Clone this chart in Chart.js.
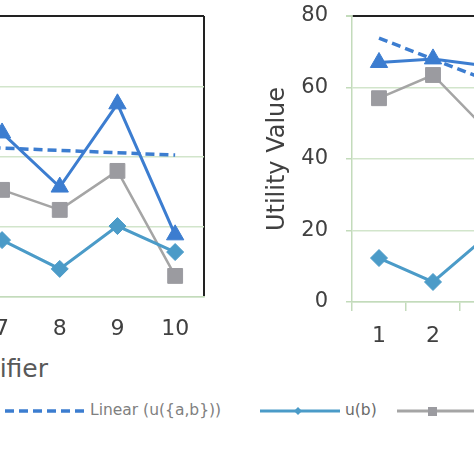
<!DOCTYPE html>
<html><head><meta charset="utf-8">
<script src="https://cdn.jsdelivr.net/npm/chart.js@4"></script>
<style>
html,body{margin:0;padding:0;background:#fff;}
#wrap{position:relative;width:474px;height:474px;overflow:hidden;background:#fff;font-family:"DejaVu Sans",sans-serif;}
canvas{position:absolute;top:0;}
#c1{left:-420px;}
#c2{left:240px;}
.txt{position:absolute;white-space:nowrap;}
#xtitle{right:426px;top:356px;font-size:25px;line-height:25px;color:#595959;}
.leg{font-size:15.5px;line-height:16px;color:#808080;top:402px;}
</style></head>
<body><div id="wrap">
<canvas id="c1" width="640" height="345"></canvas>
<canvas id="c2" width="700" height="345"></canvas>
<div id="xtitle" class="txt">Classifier</div>
<svg style="position:absolute;left:0;top:400px" width="474" height="24">
  <line x1="5" y1="11" x2="86" y2="11" stroke="#3C7DD0" stroke-width="3.5" stroke-dasharray="9 5"/>
  <line x1="260" y1="11" x2="340" y2="11" stroke="#4B9BC8" stroke-width="3"/>
  <path d="M298 7 L302 11 L298 15 L294 11 Z" fill="#4B9BC8"/>
  <line x1="397" y1="11" x2="480" y2="11" stroke="#A5A5A5" stroke-width="3"/>
  <rect x="428" y="7" width="9" height="9" fill="#9B9BA0"/>
</svg>
<div class="txt leg" style="left:90px;">Linear (u({a,b}))</div>
<div class="txt leg" style="left:345px;color:#6a6a6a;">u(b)</div>
</div>
<script>
const categories = ['1','2','3','4','5','6','7','8','9','10'];
const yTicks = [0, 20, 40, 60, 80];
// left chart (only categories 7-10 visible)
const leftUab   = [null,null,null,null,null,null,46.7,31.3,55.0,17.7];
const leftUa    = [null,null,null,null,null,null,30.5,24.8,35.9,6.0];
const leftUb    = [null,null,null,null,null,null,16.2,8.0,20.2,12.8];
const leftTrend = [46.4,null,null,null,null,null,null,null,null,40.4];
// right chart (only categories 1-3 visible)
const rightUab   = [67.0,68.0,66.0,null,null,null,null,null,null,null];
const rightUa    = [57.0,63.5,48.0,null,null,null,null,null,null,null];
const rightUb    = [12.3,5.6,18.5,null,null,null,null,null,null,null];
const rightTrend = [73.8,null,null,null,null,null,null,null,null,21.0];

const C_DARK = '#3C7DD0', C_LIGHT = '#4B9BC8', C_GRAY = '#A5A5A5', C_GRAYM = '#9B9BA0';
const GRID = '#D2E5CB', AXIS = '#C3DBBB';
const CLEAR = 'rgba(0,0,0,0)';
Chart.defaults.font.family = '"DejaVu Sans", sans-serif';
Chart.defaults.animation = false;

function datasets(trend, uab, ub, ua) {
  return [
    {label:'Linear (u({a,b}))', data:trend, borderColor:C_DARK, borderWidth:3.5, borderDash:[9,5], pointRadius:0, spanGaps:true, fill:false},
    {label:'u({a,b})', data:uab, borderColor:C_DARK, backgroundColor:C_DARK, borderWidth:3, pointStyle:'triangle', pointRadius:10, pointBackgroundColor:C_DARK, pointBorderColor:C_DARK, pointBorderWidth:1, spanGaps:false},
    {label:'u(b)', data:ub, borderColor:C_LIGHT, backgroundColor:C_LIGHT, borderWidth:3, pointStyle:'rectRot', pointRadius:8.5, pointBackgroundColor:C_LIGHT, pointBorderColor:C_LIGHT, pointBorderWidth:1},
    {label:'u(a)', data:ua, borderColor:C_GRAY, backgroundColor:C_GRAYM, borderWidth:2.5, pointStyle:'rect', pointRadius:10.5, pointBackgroundColor:C_GRAYM, pointBorderColor:C_GRAYM, pointBorderWidth:1}
  ];
}
const yBase = {
  min: yTicks[0], max: yTicks[yTicks.length-1],
  afterBuildTicks: s => { s.ticks = yTicks.map(v => ({value:v})); },
};
const isTop = c => c.tick && c.tick.value === yTicks[yTicks.length-1];

new Chart(document.getElementById('c1'), {
  type:'line',
  data:{labels:categories, datasets:datasets(leftTrend,leftUab,leftUb,leftUa)},
  options:{
    responsive:false, animation:false,
    layout:{padding:{top:16,right:16,left:0,bottom:0}},
    plugins:{legend:{display:false}, tooltip:{enabled:false}},
    scales:{
      x:{offset:true,
         grid:{offset:true, color:c => c.type === 'scale' ? '#222' : CLEAR, lineWidth:2, tickColor:CLEAR, tickLength:9},
         border:{color:AXIS, width:1.5},
         ticks:{font:{size:22}, color:'#404040', padding:10, maxRotation:0, autoSkip:false},
         afterFit: s => { s.height = 48; s.paddingLeft = 0; s.paddingRight = 0; }},
      y:Object.assign({}, yBase, {
         grid:{color:c => isTop(c) ? '#222' : GRID, lineWidth:c => isTop(c) ? 2 : 1.5, drawTicks:false},
         border:{display:false},
         ticks:{font:{size:21}, color:'#404040'},
         afterFit: s => { s.width = 47; s.paddingTop = 0; s.paddingBottom = 0; }})
    }
  }
});

new Chart(document.getElementById('c2'), {
  type:'line',
  data:{labels:categories, datasets:datasets(rightTrend,rightUab,rightUb,rightUa)},
  options:{
    responsive:false, animation:false,
    layout:{padding:{top:16,right:48,left:0,bottom:0}},
    plugins:{legend:{display:false}, tooltip:{enabled:false}},
    scales:{
      x:{offset:true,
         grid:{offset:true, color:CLEAR, tickColor:AXIS, tickLength:9, lineWidth:1.5},
         border:{color:AXIS, width:1.5},
         ticks:{font:{size:22}, color:'#404040', padding:12, maxRotation:0, autoSkip:false},
         afterFit: s => { s.height = 43; s.paddingLeft = 0; s.paddingRight = 0; }},
      y:Object.assign({}, yBase, {
         grid:{color:c => isTop(c) ? '#222' : GRID, lineWidth:c => isTop(c) ? 2 : 1.5, tickColor:AXIS, tickLength:6},
         border:{color:AXIS, width:1.5},
         ticks:{font:{size:21}, color:'#404040', padding:18},
         title:{display:true, text:'Utility Value', font:{size:24}, color:'#404040', padding:{top:23,bottom:0}},
         afterFit: s => { s.width = 112; s.paddingTop = 0; s.paddingBottom = 0; }})
    }
  }
});
</script>
</body></html>
